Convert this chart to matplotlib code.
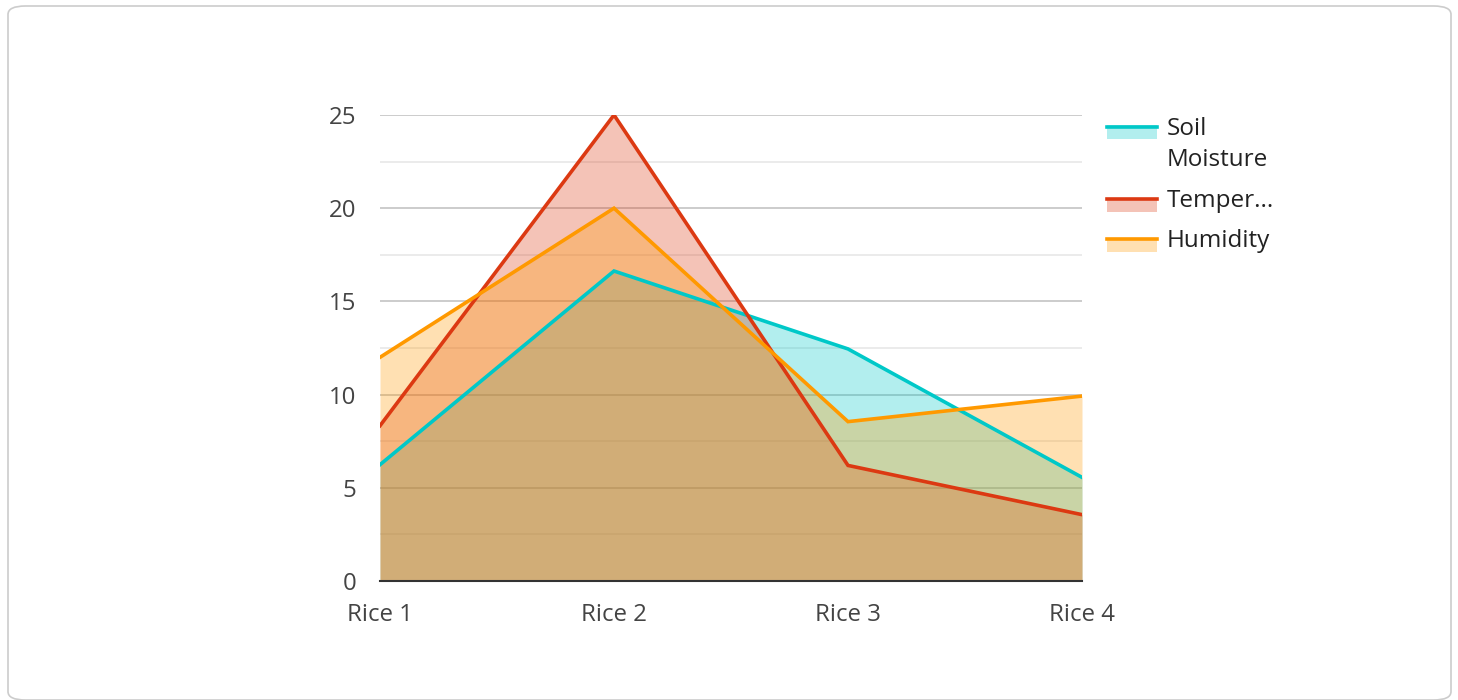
import matplotlib
matplotlib.use("Agg")
import matplotlib.pyplot as plt
from matplotlib.patches import FancyBboxPatch
from matplotlib.lines import Line2D

categories = ["Rice 1", "Rice 2", "Rice 3", "Rice 4"]
soil_moisture = [6.24, 16.63, 12.45, 5.56]
temperature = [8.33, 25.0, 6.2, 3.56]
humidity = [12.0, 20.0, 8.55, 9.92]
legend_labels = ["Soil\nMoisture", "Temper...", "Humidity"]
y_ticks = [0, 5, 10, 15, 20, 25]

colors = ["#00c8c8", "#dc3912", "#ff9900"]
series = [soil_moisture, temperature, humidity]

plt.rcParams['font.family'] = ['Open Sans', 'DejaVu Sans']

W, H = 1458, 700
fig = plt.figure(figsize=(W / 100, H / 100), dpi=100)

# outer rounded border
border = FancyBboxPatch((8 / W, 1 - 700 / H), (1451 - 8) / W, (700 - 6) / H,
                        boxstyle="round,pad=0,rounding_size=0.012",
                        transform=fig.transFigure, facecolor="white",
                        edgecolor="#cccccc", linewidth=1.2, zorder=-10)
fig.patches.append(border)

ax = fig.add_axes([380 / W, 1 - 581 / H, (1082 - 380) / W, (581 - 115) / H], zorder=1)
ax.set_facecolor("none")
x = list(range(len(categories)))

for vals, c in zip(series, colors):
    ax.fill_between(x, 0, vals, color=c, alpha=0.3, linewidth=0, zorder=2)
for vals, c in zip(series, colors):
    ax.plot(x, vals, color=c, linewidth=2.6, zorder=4, solid_joinstyle="miter")

ax.set_xlim(0, 3)
ax.set_ylim(0, 25)
ax.set_yticks(y_ticks)
ax.set_yticks([2.5, 7.5, 12.5, 17.5, 22.5], minor=True)
ax.grid(True, which="major", axis="y", color="#c4c4c4", linewidth=1.2, zorder=1)
ax.grid(True, which="minor", axis="y", color="#e8e8e8", linewidth=1.2, zorder=1)
ax.set_axisbelow(True)
ax.set_xticks(x)
ax.set_xticklabels(categories)
ax.tick_params(axis="both", which="both", length=0, labelsize=17.3, labelcolor="#444444")
ax.tick_params(axis="y", pad=17)
ax.tick_params(axis="x", pad=16)
for s in ["top", "right", "left"]:
    ax.spines[s].set_visible(False)
ax.spines["bottom"].set_color("#333333")
ax.spines["bottom"].set_linewidth(1.5)
ax.spines["bottom"].set_zorder(5)

# legend drawn manually
legend_y = [127, 200, 240]
for c, yy in zip(colors, legend_y):
    fig.patches.append(plt.Rectangle((1107 / W, 1 - (yy + 12) / H), 50 / W, 14 / H,
                                     transform=fig.transFigure, facecolor=c, alpha=0.3,
                                     edgecolor="none", zorder=2))
    fig.lines.append(Line2D([1107 / W, 1157 / W], [1 - (yy - 0.5) / H] * 2,
                            transform=fig.transFigure, color=c, linewidth=2.6, zorder=3))

text_lines = legend_labels[0].split("\n") + legend_labels[1:]
text_y = [129, 160, 201, 241]
for t, yy in zip(text_lines, text_y):
    fig.text(1167 / W, 1 - yy / H, t, fontsize=17.5, color="#222222", va="center", ha="left")

fig.savefig("out.png", dpi=100)
